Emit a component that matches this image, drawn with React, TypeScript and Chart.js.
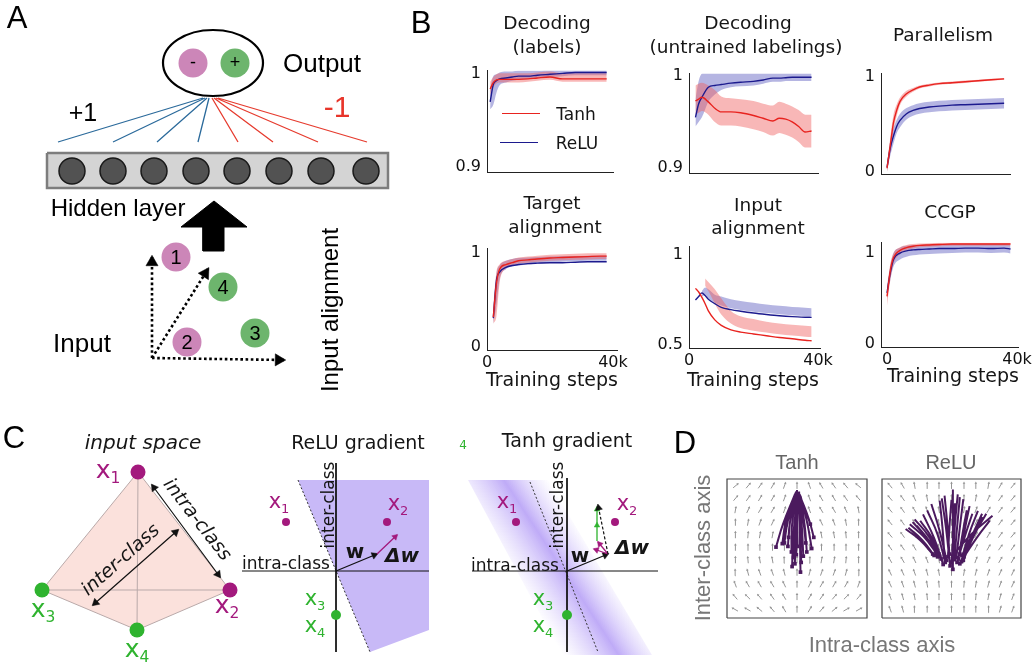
import React, { useEffect, useRef } from 'react';
import { Chart, registerables } from 'chart.js';

Chart.register(...registerables);

const DEJAVU = '"DejaVu Sans", Verdana, sans-serif';
const HELV = '"Liberation Sans", Arial, Helvetica, sans-serif';
Chart.defaults.font.family = DEJAVU;

const RED = '#e8231f';
const BLUE = '#1c1a8e';
const RED_BAND = 'rgba(240,95,95,0.45)';
const BLUE_BAND = 'rgba(90,90,190,0.45)';
const MAGENTA = '#a3197d';
const GREEN = '#2fb32f';
const PINK_UNIT = '#cc86b8';
const GREEN_UNIT = '#6db56d';
const TRAJ = '#4b1a5e';
const QUIVER = '#959595';

// ---------------- Panel B data (x = thousands of training steps) ----------------
const decLabelsSteps = [1, 2, 3, 4, 6, 8, 10, 13, 16, 20, 24, 28, 32, 36, 38];
const decLabelsTanh = [0.984, 0.991, 0.994, 0.9945, 0.9945, 0.9945, 0.9945, 0.995, 0.996, 0.997, 0.995, 0.995, 0.995, 0.995, 0.995];
const decLabelsTanhHi = [0.992, 0.997, 1.0, 1.001, 1.001, 1.001, 1.001, 1.001, 1.002, 1.003, 1.001, 1.001, 1.001, 1.001, 1.001];
const decLabelsTanhLo = [0.978, 0.986, 0.99, 0.991, 0.991, 0.991, 0.991, 0.992, 0.993, 0.994, 0.992, 0.992, 0.992, 0.992, 0.992];
const decLabelsRelu = [0.97, 0.989, 0.993, 0.995, 0.996, 0.997, 0.998, 0.998, 0.999, 1.0, 1.001, 1.002, 1.002, 1.002, 1.002];
const decLabelsReluHi = [0.985, 0.998, 1.0, 1.002, 1.003, 1.003, 1.004, 1.004, 1.004, 1.005, 1.005, 1.006, 1.006, 1.006, 1.006];
const decLabelsReluLo = [0.962, 0.967, 0.98, 0.988, 0.991, 0.993, 0.994, 0.995, 0.996, 0.997, 0.998, 0.999, 0.999, 0.999, 0.999];

const decUntrainedSteps = [2, 3, 4, 6, 8, 10, 13, 16, 20, 23, 26, 28, 30, 32, 34, 36, 38];
const decUntrainedTanh = [0.973, 0.975, 0.977, 0.972, 0.965, 0.961, 0.961, 0.96, 0.957, 0.954, 0.951, 0.954, 0.953, 0.95, 0.945, 0.939, 0.94];
const decUntrainedTanhHi = [0.99, 0.992, 0.993, 0.99, 0.985, 0.978, 0.976, 0.975, 0.973, 0.97, 0.968, 0.972, 0.97, 0.967, 0.963, 0.958, 0.958];
const decUntrainedTanhLo = [0.958, 0.96, 0.962, 0.958, 0.95, 0.946, 0.946, 0.945, 0.942, 0.939, 0.935, 0.938, 0.936, 0.933, 0.928, 0.922, 0.922];
const decUntrainedRelu = [0.955, 0.97, 0.977, 0.988, 0.99, 0.991, 0.9925, 0.9935, 0.9945, 0.996, 0.998, 0.998, 0.9985, 0.999, 0.999, 0.999, 0.999];
const decUntrainedReluHi = [0.975, 0.995, 1.003, 1.005, 1.005, 1.005, 1.005, 1.005, 1.005, 1.005, 1.005, 1.005, 1.005, 1.005, 1.005, 1.005, 1.005];
const decUntrainedReluLo = [0.945, 0.95, 0.955, 0.972, 0.98, 0.985, 0.988, 0.989, 0.99, 0.992, 0.994, 0.994, 0.995, 0.995, 0.995, 0.995, 0.995];

const parallelSteps = [0, 1, 2, 3, 4, 6, 8, 10, 13, 16, 20, 24, 28, 32, 36];
const parallelTanh = [0.04, 0.28, 0.52, 0.65, 0.74, 0.82, 0.86, 0.89, 0.91, 0.925, 0.935, 0.945, 0.955, 0.965, 0.975];
const parallelTanhHi = [0.08, 0.36, 0.6, 0.71, 0.78, 0.85, 0.88, 0.905, 0.925, 0.937, 0.947, 0.957, 0.966, 0.975, 0.985];
const parallelTanhLo = [0.0, 0.2, 0.44, 0.59, 0.7, 0.79, 0.84, 0.875, 0.895, 0.913, 0.923, 0.933, 0.944, 0.955, 0.965];
const parallelRelu = [0.05, 0.25, 0.38, 0.48, 0.54, 0.61, 0.645, 0.665, 0.68, 0.69, 0.7, 0.705, 0.71, 0.715, 0.72];
const parallelReluHi = [0.09, 0.33, 0.46, 0.55, 0.61, 0.67, 0.7, 0.72, 0.735, 0.745, 0.755, 0.76, 0.765, 0.77, 0.775];
const parallelReluLo = [0.01, 0.17, 0.3, 0.41, 0.47, 0.55, 0.59, 0.61, 0.625, 0.635, 0.645, 0.65, 0.655, 0.66, 0.665];

const targetSteps = [2, 3, 4, 6, 8, 10, 13, 16, 20, 24, 28, 32, 36, 38];
const targetTanh = [0.32, 0.68, 0.83, 0.88, 0.9, 0.92, 0.93, 0.94, 0.95, 0.955, 0.96, 0.965, 0.97, 0.97];
const targetTanhHi = [0.45, 0.8, 0.88, 0.92, 0.94, 0.955, 0.965, 0.975, 0.985, 0.99, 0.995, 1.0, 1.0, 1.0];
const targetTanhLo = [0.25, 0.33, 0.68, 0.84, 0.87, 0.89, 0.9, 0.91, 0.92, 0.925, 0.93, 0.935, 0.94, 0.94];
const targetRelu = [0.31, 0.71, 0.8, 0.85, 0.87, 0.88, 0.89, 0.895, 0.9, 0.9, 0.905, 0.91, 0.91, 0.91];
const targetReluHi = [0.4, 0.78, 0.87, 0.92, 0.94, 0.95, 0.955, 0.96, 0.965, 0.97, 0.97, 0.975, 0.975, 0.975];
const targetReluLo = [0.25, 0.45, 0.72, 0.83, 0.86, 0.87, 0.88, 0.89, 0.9, 0.91, 0.915, 0.92, 0.92, 0.92];

const inputSteps = [2, 3, 4, 5, 6, 8, 10, 13, 16, 20, 24, 28, 32, 36, 38];
const inputTanh = [0.815, 0.795, 0.765, 0.73, 0.69, 0.64, 0.61, 0.585, 0.572, 0.562, 0.552, 0.542, 0.535, 0.527, 0.524];
const inputRelu = [0.75, 0.77, 0.79, 0.775, 0.755, 0.73, 0.71, 0.697, 0.688, 0.678, 0.67, 0.663, 0.658, 0.655, 0.654];
const inputTanhBandSteps = [5, 6, 8, 10, 13, 16, 20, 24, 28, 32, 36, 38];
const inputTanhHi = [0.87, 0.85, 0.81, 0.76, 0.69, 0.66, 0.645, 0.63, 0.62, 0.613, 0.607, 0.605];
const inputTanhLo = [0.83, 0.8, 0.73, 0.67, 0.62, 0.595, 0.58, 0.57, 0.56, 0.553, 0.547, 0.545];
const inputReluBandSteps = [4, 5, 6, 8, 10, 13, 16, 20, 24, 28, 32, 36, 38];
const inputReluHi = [0.8, 0.82, 0.81, 0.78, 0.77, 0.755, 0.745, 0.735, 0.725, 0.718, 0.712, 0.708, 0.705];
const inputReluLo = [0.77, 0.78, 0.76, 0.735, 0.72, 0.705, 0.695, 0.685, 0.678, 0.672, 0.666, 0.662, 0.66];

const ccgpSteps = [0, 1, 2, 4, 6, 8, 10, 13, 16, 20, 24, 28, 32, 36, 38];
const ccgpTanh = [0.52, 0.8, 0.95, 1.03, 1.06, 1.075, 1.085, 1.09, 1.095, 1.1, 1.1, 1.1, 1.1, 1.1, 1.1];
const ccgpTanhHi = [0.62, 0.88, 1.0, 1.065, 1.09, 1.1, 1.105, 1.11, 1.115, 1.115, 1.115, 1.115, 1.115, 1.115, 1.115];
const ccgpTanhLo = [0.42, 0.7, 0.88, 0.99, 1.03, 1.05, 1.065, 1.07, 1.075, 1.08, 1.08, 1.08, 1.08, 1.08, 1.08];
const ccgpRelu = [0.56, 0.78, 0.93, 1.0, 1.025, 1.035, 1.04, 1.045, 1.05, 1.05, 1.055, 1.055, 1.05, 1.055, 1.045];
const ccgpReluHi = [0.62, 0.86, 1.0, 1.06, 1.08, 1.09, 1.09, 1.095, 1.095, 1.1, 1.1, 1.1, 1.1, 1.1, 1.09];
const ccgpReluLo = [0.5, 0.7, 0.85, 0.93, 0.96, 0.975, 0.985, 0.99, 0.995, 1.0, 1.005, 1.005, 1.0, 1.005, 0.995];

const xTickValuesBottom = [0, 40];

// ---------------- Panel D data (normalized axes -1..1) ----------------
const quiverGridX = [-0.88, -0.7, -0.53, -0.35, -0.18, 0, 0.18, 0.35, 0.53, 0.7, 0.88];
const quiverGridY = [0.9, 0.72, 0.55, 0.37, 0.19, 0.01, -0.17, -0.35, -0.52, -0.7, -0.88];
// angle of each arrow in degrees, clockwise from "up"
const tanhFieldAngles = [
  [50, 40, 35, 30, 20, 0, -20, -30, -35, -40, -50],
  [40, 35, 30, 30, 20, 0, -20, -30, -30, -35, -40],
  [10, 25, 30, 30, 20, 0, -20, -30, -30, -25, -10],
  [0, 10, 20, 25, 15, 0, -15, -25, -20, -10, 0],
  [0, 5, 10, 10, 5, 0, -5, -10, -10, -5, 0],
  [0, 0, 0, 0, 0, 0, 0, 0, 0, 0, 0],
  [0, -5, -10, -10, -5, 0, 5, 10, 10, 5, 0],
  [-5, -15, -20, -20, -15, 0, 15, 20, 20, 15, 5],
  [-20, -30, -30, -30, -25, 0, 25, 30, 30, 30, 20],
  [-40, -45, -40, -35, -30, 0, 30, 35, 40, 45, 40],
  [-60, -60, -50, -40, -30, 0, 30, 40, 50, 60, 60],
];
const reluFieldAngles = [
  [-40, -30, -10, 0, 0, 0, 0, 0, 10, 30, 40],
  [-40, -35, -25, -10, 0, 0, 0, 10, 25, 35, 40],
  [-40, -35, -30, -20, -10, 0, 10, 20, 30, 35, 40],
  [-40, -35, -30, -25, -15, 0, 15, 25, 30, 35, 40],
  [-40, -35, -30, -25, -15, 0, 15, 25, 30, 35, 40],
  [-35, -35, -30, -25, -15, 0, 15, 25, 30, 35, 35],
  [-30, -30, -25, -20, -10, 0, 10, 20, 25, 30, 30],
  [-25, -25, -20, -15, -10, 0, 10, 15, 20, 25, 25],
  [-25, -20, -15, -10, -5, 0, 5, 10, 15, 20, 25],
  [-20, -15, -10, -5, 0, 0, 0, 5, 10, 15, 20],
  [-20, -15, -5, 0, 0, 0, 0, 0, 5, 15, 20],
];
// trajectories: start x,y  mid x,y  end x,y
const tanhTrajectories = [
  [-0.3, 0.02, -0.2, 0.35, -0.03, 0.78],
  [-0.21, 0.07, -0.16, 0.38, -0.02, 0.8],
  [-0.16, 0.34, -0.1, 0.55, -0.01, 0.82],
  [-0.12, 0.16, -0.09, 0.45, 0.0, 0.83],
  [-0.08, -0.05, -0.07, 0.35, 0.0, 0.8],
  [-0.05, -0.13, -0.04, 0.3, 0.01, 0.78],
  [-0.03, -0.22, -0.02, 0.25, 0.02, 0.8],
  [0.05, -0.34, 0.04, 0.2, 0.02, 0.76],
  [0.09, -0.11, 0.07, 0.3, 0.03, 0.79],
  [0.14, -0.05, 0.11, 0.33, 0.04, 0.78],
  [0.21, 0.0, 0.15, 0.35, 0.05, 0.76],
  [0.24, 0.16, 0.17, 0.42, 0.05, 0.74],
  [0.19, 0.35, 0.12, 0.55, 0.04, 0.75],
  [0.01, 0.03, 0.0, 0.4, 0.01, 0.81],
  [-0.13, 0.03, -0.1, 0.38, -0.01, 0.79],
  [0.125, 0.08, 0.09, 0.4, 0.03, 0.8],
  [-0.01, -0.09, 0.0, 0.35, 0.0, 0.84],
  [-0.18, 0.08, -0.13, 0.4, -0.02, 0.77],
  [0.06, -0.2, 0.05, 0.25, 0.03, 0.82],
  [-0.07, -0.26, -0.05, 0.22, 0.01, 0.79],
];
const reluTrajectories = [
  [-0.27, -0.08, -0.45, 0.12, -0.66, 0.28],
  [-0.22, -0.06, -0.4, 0.17, -0.6, 0.35],
  [-0.17, -0.11, -0.33, 0.18, -0.53, 0.42],
  [-0.12, -0.23, -0.25, 0.15, -0.41, 0.49],
  [-0.07, -0.17, -0.17, 0.25, -0.29, 0.64],
  [-0.1, -0.12, -0.13, 0.3, -0.17, 0.69],
  [-0.03, -0.08, -0.06, 0.35, -0.1, 0.76],
  [0.02, -0.3, 0.02, 0.3, 0.02, 0.85],
  [0.02, -0.13, 0.05, 0.35, 0.09, 0.78],
  [0.07, -0.13, 0.12, 0.3, 0.17, 0.71],
  [0.12, -0.08, 0.19, 0.27, 0.26, 0.61],
  [0.14, -0.19, 0.25, 0.2, 0.38, 0.54],
  [0.17, -0.17, 0.32, 0.18, 0.5, 0.5],
  [0.05, -0.06, 0.3, 0.22, 0.59, 0.47],
  [-0.25, -0.1, -0.42, 0.12, -0.62, 0.3],
  [-0.2, -0.12, -0.33, 0.12, -0.5, 0.33],
  [-0.15, -0.15, -0.28, 0.15, -0.45, 0.4],
  [-0.09, -0.2, -0.2, 0.2, -0.35, 0.55],
  [-0.05, -0.12, -0.03, 0.3, 0.0, 0.7],
  [0.0, -0.2, 0.03, 0.25, 0.05, 0.65],
  [0.1, -0.15, 0.16, 0.22, 0.22, 0.55],
  [0.15, -0.1, 0.3, 0.2, 0.45, 0.45],
  [0.18, -0.12, 0.36, 0.15, 0.55, 0.4],
  [0.08, -0.2, 0.2, 0.2, 0.3, 0.5],
  [-0.02, -0.25, -0.08, 0.3, -0.14, 0.72],
  [0.04, -0.16, 0.08, 0.3, 0.12, 0.74],
  [-0.18, -0.08, -0.36, 0.16, -0.56, 0.38],
  [0.12, -0.22, 0.28, 0.15, 0.44, 0.5],
];
const frameOutline = [[-1, -1], [1, -1], [1, 1], [-1, 1], [-1, -1]];

// ---------------- Panels A and C schematic geometry (page pixel units) ----------------
const fanBlueLines = [[58, 142, 203, 98], [113, 142, 205, 98], [157, 142, 207, 98], [198, 142, 209, 98]];
const fanRedLines = [[238, 142, 212, 98], [273, 142, 214, 98], [318, 142, 216, 98], [367, 142, 218, 98]];
const hiddenBarOutline = [[47, 153], [388, 153], [388, 188], [47, 188], [47, 153]];
const hiddenUnitsX = [72, 113, 154, 196, 237, 279, 321, 366];
const hiddenUnitsY = 171;
const outputEllipseCenter = [213, 63];
const pinkUnits = [[193, 63], [176, 257], [187, 342]];
const greenUnits = [[235, 63], [223, 287], [255, 333]];
const bigArrowOutline = [[203, 251], [224, 251], [224, 227], [247, 227], [214, 201], [181, 227], [203, 227], [203, 251]];
const inputAxes = [[152, 358, 152, 257], [152, 358, 284, 360], [152, 358, 208, 269]];

const vX1 = [138, 472];
const vX2 = [230, 590];
const vX3 = [42, 590];
const vX4 = [137, 630];
const tetraFace = [vX1, vX2, vX4, vX3, vX1];
const tetraEdges = [[...vX1, ...vX3], [...vX3, ...vX4], [...vX4, ...vX2], [...vX3, ...vX2], [...vX1, ...vX4], [...vX1, ...vX2]];
const classArrows = [[152, 485, 220, 577], [93, 605, 178, 530]];

const reluRegion = [[298, 480], [429, 480], [429, 630], [370, 652], [298, 480]];
const reluBoundary = [[298, 480, 370, 652]];
const reluAxes = [[242, 571, 429, 571], [336, 463, 336, 652]];
const tanhBand = [[468, 480], [548, 480], [652, 655], [562, 655], [468, 480]];
const tanhBandGradient = [521, 590, 591, 544];
const tanhBoundary = [[530, 482, 598, 652]];
const tanhAxes = [[472, 571, 658, 571], [567, 478, 567, 652]];
const classOnePoints = [[286, 522], [387, 522], [516, 522], [615, 522]];
const classTwoPoints = [[336, 615], [567, 615]];
const weightArrows = [[336, 571, 377, 554], [567, 571, 608, 554]];
const dwArrows = [[377, 554, 397, 535], [608, 554, 598, 542], [608, 554, 594, 549]];
const tanhGreenSteps = [[597, 541, 597, 523], [597, 523, 597, 507]];
const tanhDashedArrow = [[608, 554, 598, 505]];

// ---------------- helpers ----------------
const P = (x: number, y: number) => ({ x, y });
const GAP = { x: NaN, y: NaN };
const pts = (xs: number[], ys: number[]) => xs.map((x, i) => P(x, ys[i]));
const poly = (list: number[][]) => list.map(([x, y]) => P(x, y));
const segs = (list: number[][]) => {
  const out: any[] = [];
  list.forEach((s) => {
    for (let i = 0; i < s.length; i += 2) out.push(P(s[i], s[i + 1]));
    out.push(GAP);
  });
  return out;
};
const heads = (list: number[][], r: number, both = false) => {
  const data: any[] = [];
  const rot: number[] = [];
  const one = (x1: number, y1: number, x2: number, y2: number) => {
    const dx = x2 - x1, dy = y2 - y1, len = Math.hypot(dx, dy);
    const ux = dx / len, uy = dy / len;
    data.push(P(x2 - ux * r * 0.75, y2 - uy * r * 0.75));
    rot.push((Math.atan2(ux, -uy) * 180) / Math.PI);
  };
  list.forEach(([a, b, c, d]) => {
    one(a, b, c, d);
    if (both) one(c, d, a, b);
  });
  return { data, rot };
};

const base = {
  responsive: false,
  animation: false as const,
  events: [] as any[],
  plugins: { legend: { display: false }, tooltip: { enabled: false } },
};

// ---------------- Panel B config ----------------
const bPanels = [
  { box: [487, 613, 65, 172], x: [0, 40], xTicks: [], y: [0.894, 1.004], yTicks: [0.9, 1],
    tanh: [decLabelsSteps, decLabelsTanh], tanhBand: [decLabelsSteps, decLabelsTanhHi, decLabelsTanhLo],
    relu: [decLabelsSteps, decLabelsRelu], reluBand: [decLabelsSteps, decLabelsReluHi, decLabelsReluLo] },
  { box: [689, 818, 68, 173], x: [0, 40], xTicks: [], y: [0.894, 1.003], yTicks: [0.9, 1],
    tanh: [decUntrainedSteps, decUntrainedTanh], tanhBand: [decUntrainedSteps, decUntrainedTanhHi, decUntrainedTanhLo],
    relu: [decUntrainedSteps, decUntrainedRelu], reluBand: [decUntrainedSteps, decUntrainedReluHi, decUntrainedReluLo] },
  { box: [881, 1010, 68, 174], x: [-1.85, 37.8], xTicks: [], y: [-0.02, 1.03], yTicks: [0, 1],
    tanh: [parallelSteps, parallelTanh], tanhBand: [parallelSteps, parallelTanhHi, parallelTanhLo],
    relu: [parallelSteps, parallelRelu], reluBand: [parallelSteps, parallelReluHi, parallelReluLo] },
  { box: [487, 617, 243, 350], x: [0, 41.27], xTicks: xTickValuesBottom, y: [-0.03, 1.05], yTicks: [0, 1],
    tanh: [targetSteps, targetTanh], tanhBand: [targetSteps, targetTanhHi, targetTanhLo],
    relu: [targetSteps, targetRelu], reluBand: [targetSteps, targetReluHi, targetReluLo] },
  { box: [689, 820, 241, 348], x: [0, 40.6], xTicks: xTickValuesBottom, y: [0.484, 1.047], yTicks: [0.5, 1],
    tanh: [inputSteps, inputTanh], tanhBand: [inputTanhBandSteps, inputTanhHi, inputTanhLo],
    relu: [inputSteps, inputRelu], reluBand: [inputReluBandSteps, inputReluHi, inputReluLo] },
  { box: [881, 1018, 237, 347], x: [-1.85, 40.3], xTicks: xTickValuesBottom, y: [-0.04, 1.116], yTicks: [0, 1],
    tanh: [ccgpSteps, ccgpTanh], tanhBand: [ccgpSteps, ccgpTanhHi, ccgpTanhLo],
    relu: [ccgpSteps, ccgpRelu], reluBand: [ccgpSteps, ccgpReluHi, ccgpReluLo] },
];

const Y_AXIS_W = 45, X_AXIS_H = 30, PAD_TOP = 10, PAD_RIGHT = 20;

function bConfig(p: any): any {
  const line = (xs: number[], ys: number[], color: string) => ({
    data: pts(xs, ys), borderColor: color, borderWidth: 1.4, pointRadius: 0, pointHoverRadius: 0, fill: false,
    cubicInterpolationMode: 'monotone',
  });
  const edge = (xs: number[], ys: number[], fill: any, color: string) => ({
    data: pts(xs, ys), borderWidth: 0, borderColor: 'rgba(0,0,0,0)', pointRadius: 0, pointHoverRadius: 0, fill,
    backgroundColor: color, cubicInterpolationMode: 'monotone',
  });
  const tickFont = { family: DEJAVU, size: 16 };
  return {
    type: 'line',
    data: {
      datasets: [
        line(p.tanh[0], p.tanh[1], RED),
        line(p.relu[0], p.relu[1], BLUE),
        edge(p.tanhBand[0], p.tanhBand[1], false, RED_BAND),
        edge(p.tanhBand[0], p.tanhBand[2], '-1', RED_BAND),
        edge(p.reluBand[0], p.reluBand[1], false, BLUE_BAND),
        edge(p.reluBand[0], p.reluBand[2], '-1', BLUE_BAND),
      ],
    },
    options: {
      ...base,
      layout: { autoPadding: false, padding: { top: PAD_TOP, right: PAD_RIGHT, left: 0, bottom: 0 } },
      scales: {
        x: {
          type: 'linear', min: p.x[0], max: p.x[1],
          grid: { display: false, drawTicks: false },
          border: { display: true, color: '#222', width: 1 },
          ticks: {
            display: p.xTicks.length > 0, font: tickFont, color: '#111', padding: 3,
            maxRotation: 0, autoSkip: false,
            callback: (v: number) => (v === 0 ? '0' : `${v}k`),
          },
          afterBuildTicks: (s: any) => { s.ticks = p.xTicks.map((v: number) => ({ value: v })); },
          afterFit: (s: any) => { s.height = X_AXIS_H; },
        },
        y: {
          type: 'linear', min: p.y[0], max: p.y[1],
          grid: { display: false, drawTicks: false },
          border: { display: true, color: '#222', width: 1 },
          ticks: { font: tickFont, color: '#111', padding: 6, callback: (v: number) => String(v) },
          afterBuildTicks: (s: any) => { s.ticks = p.yTicks.map((v: number) => ({ value: v })); },
          afterFit: (s: any) => { s.width = Y_AXIS_W; },
        },
      },
    },
  };
}

// ---------------- Panel D config ----------------
function dConfig(angles: number[][], trajs: number[][]): any {
  const qLines: any[] = [];
  const qHeads: any[] = [];
  const qRot: number[] = [];
  const QL = 0.085;
  angles.forEach((row, r) =>
    row.forEach((deg, c) => {
      const rad = (deg * Math.PI) / 180;
      const dx = (Math.sin(rad) * QL) / 2, dy = (Math.cos(rad) * QL) / 2;
      const x0 = quiverGridX[c], y0 = quiverGridY[r];
      qLines.push(P(x0 - dx, y0 - dy), P(x0 + dx, y0 + dy), GAP);
      qHeads.push(P(x0 + dx, y0 + dy));
      qRot.push(deg);
    })
  );
  const trajPts: any[] = [];
  const starts: any[] = [];
  trajs.forEach((t) => {
    trajPts.push(P(t[0], t[1]), P(t[2], t[3]), P(t[4], t[5]), GAP);
    starts.push(P(t[0], t[1]));
  });
  return {
    type: 'line',
    data: {
      datasets: [
        { data: starts, showLine: false, pointStyle: 'rect', pointRadius: 2.6, backgroundColor: TRAJ, borderColor: TRAJ, borderWidth: 0 },
        { data: trajPts, borderColor: TRAJ, borderWidth: 2, tension: 0.45, pointRadius: 0, fill: false },
        { data: qHeads, showLine: false, pointStyle: 'triangle', pointRadius: 1.5, pointRotation: qRot, backgroundColor: QUIVER, borderWidth: 0 },
        { data: qLines, borderColor: QUIVER, borderWidth: 1, pointRadius: 0, fill: false },
        { data: poly(frameOutline), borderColor: '#444', borderWidth: 1.2, pointRadius: 0, fill: false, clip: false },
      ],
    },
    options: {
      ...base,
      layout: { autoPadding: false, padding: 2 },
      scales: {
        x: { type: 'linear', min: -1, max: 1, display: false },
        y: { type: 'linear', min: -1, max: 1, display: false },
      },
    },
  };
}

// ---------------- Schematic config (panels A & C) ----------------
function makeEllipseStyle() {
  const c = document.createElement('canvas');
  c.width = 106;
  c.height = 72;
  const g = c.getContext('2d')!;
  g.lineWidth = 2.2;
  g.strokeStyle = '#000';
  g.beginPath();
  g.ellipse(53, 36, 50, 33, 0, 0, Math.PI * 2);
  g.stroke();
  return c;
}

function tanhBandFill(c: any) {
  const fallback = 'rgba(185,165,245,0.5)';
  const ch = c && c.chart;
  if (!ch || !ch.ctx || !ch.scales) return fallback;
  const xs = ch.scales.x, ys = ch.scales.y;
  if (!xs || !ys) return fallback;
  const coords = [
    xs.getPixelForValue(tanhBandGradient[0]), ys.getPixelForValue(tanhBandGradient[1]),
    xs.getPixelForValue(tanhBandGradient[2]), ys.getPixelForValue(tanhBandGradient[3]),
  ];
  if (!coords.every((v) => Number.isFinite(v))) return fallback;
  const g = ch.ctx.createLinearGradient(coords[0], coords[1], coords[2], coords[3]);
  g.addColorStop(0, 'rgba(205,190,250,0)');
  g.addColorStop(0.35, 'rgba(190,170,248,0.55)');
  g.addColorStop(0.55, 'rgba(175,150,245,0.8)');
  g.addColorStop(0.75, 'rgba(190,170,248,0.45)');
  g.addColorStop(1, 'rgba(205,190,250,0)');
  return g;
}

function schematicConfig(): any {
  const layers: any[] = []; // painter's order, bottom first
  const L = (d: any) => layers.push({ pointRadius: 0, pointHoverRadius: 0, borderWidth: 0, fill: false, tension: 0, ...d });
  const headSet = (h: any, r: number, color: string) =>
    L({ data: h.data, showLine: false, pointStyle: 'triangle', pointRadius: r, pointRotation: h.rot, backgroundColor: color, borderColor: color, borderWidth: 0.5 });
  const dots = (list: number[][], r: number, fillC: string, stroke: string, bw: number) =>
    L({ data: poly(list), showLine: false, pointRadius: r, backgroundColor: fillC, borderColor: stroke, borderWidth: bw });

  // Panel A
  L({ data: segs(fanBlueLines), borderColor: '#2b6a9b', borderWidth: 1.3 });
  L({ data: segs(fanRedLines), borderColor: '#e63b2e', borderWidth: 1.3 });
  L({ data: poly(hiddenBarOutline), fill: 'shape', backgroundColor: '#d4d4d4', borderColor: '#7d7d7d', borderWidth: 2.5 });
  dots(hiddenUnitsX.map((x) => [x, hiddenUnitsY]), 13, '#525252', '#1a1a1a', 1.5);
  L({ data: [P(outputEllipseCenter[0], outputEllipseCenter[1])], showLine: false, pointRadius: 20, pointStyle: makeEllipseStyle() });
  dots(pinkUnits, 14.5, PINK_UNIT, PINK_UNIT, 0);
  dots(greenUnits, 14.5, GREEN_UNIT, GREEN_UNIT, 0);
  L({ data: poly(bigArrowOutline), fill: 'shape', backgroundColor: '#000', borderColor: '#000', borderWidth: 1 });
  L({ data: segs(inputAxes), borderColor: '#000', borderWidth: 2.6, borderDash: [2.6, 2.6] });
  headSet(heads(inputAxes, 7), 7, '#000');

  // Panel C: input space
  L({ data: poly(tetraFace), fill: 'shape', backgroundColor: '#fbe1dc' });
  L({ data: segs(tetraEdges), borderColor: '#b9a9a9', borderWidth: 1 });
  L({ data: segs(classArrows), borderColor: '#111', borderWidth: 1.2 });
  headSet(heads(classArrows, 4.5, true), 4.5, '#111');
  dots([vX1, vX2], 7.5, MAGENTA, MAGENTA, 0);
  dots([vX3, vX4], 7.5, GREEN, GREEN, 0);

  // Panel C: ReLU gradient
  L({ data: poly(reluRegion), fill: 'shape', backgroundColor: '#c8b9f7' });
  L({ data: segs(reluBoundary), borderColor: '#333', borderWidth: 1, borderDash: [2, 2] });
  L({ data: segs(reluAxes), borderColor: '#111', borderWidth: 1 });

  // Panel C: Tanh gradient
  L({ data: poly(tanhBand), fill: 'shape', backgroundColor: tanhBandFill });
  L({ data: segs(tanhBoundary), borderColor: '#333', borderWidth: 1, borderDash: [2, 2] });
  L({ data: segs(tanhAxes), borderColor: '#111', borderWidth: 1 });

  dots(classOnePoints, 4, MAGENTA, MAGENTA, 0);
  dots(classTwoPoints, 5, GREEN, GREEN, 0);
  L({ data: segs(weightArrows), borderColor: '#111', borderWidth: 1.3 });
  headSet(heads(weightArrows, 4), 4, '#111');
  L({ data: segs(dwArrows), borderColor: MAGENTA, borderWidth: 1.3 });
  headSet(heads(dwArrows, 3.5), 3.5, MAGENTA);
  L({ data: segs(tanhGreenSteps), borderColor: GREEN, borderWidth: 1.3 });
  headSet(heads(tanhGreenSteps, 3.2), 3.2, GREEN);
  L({ data: segs(tanhDashedArrow), borderColor: '#111', borderWidth: 1.2, borderDash: [3, 2] });
  headSet(heads(tanhDashedArrow, 4), 4, '#111');

  return {
    type: 'line',
    data: { datasets: layers.reverse() },
    options: {
      ...base,
      layout: { autoPadding: false, padding: 0 },
      scales: {
        x: { type: 'linear', min: 0, max: 1036, display: false },
        y: { type: 'linear', min: 0, max: 667, reverse: true, display: false },
      },
    },
  };
}

// ---------------- Text ----------------
type Lab = { t: string; x: number; y: number; s: number; f?: 'hv'; c?: string; r?: number; i?: boolean; b?: boolean; sub?: string };
const labels: Lab[] = [
  { t: 'A', x: 17, y: 17, s: 31, f: 'hv', c: '#000' },
  { t: 'B', x: 421, y: 22, s: 31, f: 'hv', c: '#000' },
  { t: 'C', x: 14, y: 437, s: 31, f: 'hv', c: '#000' },
  { t: 'D', x: 685, y: 442, s: 31, f: 'hv', c: '#000' },
  // A
  { t: 'Output', x: 322, y: 63, s: 26, f: 'hv', c: '#000' },
  { t: '+1', x: 83, y: 112, s: 25, f: 'hv', c: '#000' },
  { t: '-1', x: 337, y: 107, s: 30, f: 'hv', c: '#e8352a' },
  { t: 'Hidden layer', x: 118, y: 208, s: 24, f: 'hv', c: '#000' },
  { t: 'Input', x: 82, y: 343, s: 26, f: 'hv', c: '#000' },
  { t: 'Input alignment', x: 330, y: 310, s: 24, f: 'hv', c: '#000', r: -90 },
  { t: '-', x: 193, y: 62, s: 18, f: 'hv', c: '#000' },
  { t: '+', x: 235, y: 62, s: 18, f: 'hv', c: '#000' },
  { t: '1', x: 176, y: 257, s: 20, f: 'hv', c: '#000' },
  { t: '4', x: 223, y: 287, s: 20, f: 'hv', c: '#000' },
  { t: '2', x: 187, y: 342, s: 20, f: 'hv', c: '#000' },
  { t: '3', x: 255, y: 333, s: 20, f: 'hv', c: '#000' },
  // B
  { t: 'Decoding', x: 547, y: 23, s: 18.5 },
  { t: '(labels)', x: 547, y: 47, s: 18.5 },
  { t: 'Decoding', x: 748, y: 23, s: 18.5 },
  { t: '(untrained labelings)', x: 746, y: 47, s: 18.5 },
  { t: 'Parallelism', x: 943, y: 35, s: 18.5 },
  { t: 'Target', x: 552, y: 203, s: 18.5 },
  { t: 'alignment', x: 555, y: 227, s: 18.5 },
  { t: 'Input', x: 758, y: 205, s: 18.5 },
  { t: 'alignment', x: 758, y: 228, s: 18.5 },
  { t: 'CCGP', x: 950, y: 212, s: 18.5 },
  { t: 'Training steps', x: 552, y: 379, s: 19 },
  { t: 'Training steps', x: 753, y: 379, s: 19 },
  { t: 'Training steps', x: 953, y: 375, s: 19 },
  { t: 'Tanh', x: 576, y: 114, s: 17 },
  { t: 'ReLU', x: 577, y: 143, s: 17 },
  // C input space
  { t: 'input space', x: 143, y: 442, s: 20, i: true },
  { t: 'x', sub: '1', x: 108, y: 472, s: 25, c: MAGENTA },
  { t: 'x', sub: '2', x: 227, y: 607, s: 25, c: MAGENTA },
  { t: 'x', sub: '3', x: 43, y: 611, s: 25, c: GREEN },
  { t: 'x', sub: '4', x: 137, y: 651, s: 25, c: GREEN },
  { t: 'intra-class', x: 198, y: 519, s: 19, i: true, r: 52 },
  { t: 'inter-class', x: 120, y: 559, s: 19, i: true, r: -41.6 },
  // C ReLU
  { t: 'ReLU gradient', x: 358, y: 442, s: 19 },
  { t: '4', x: 463, y: 445, s: 12, c: GREEN },
  { t: 'inter-class', x: 328, y: 505, s: 17, r: -90 },
  { t: 'intra-class', x: 286, y: 563, s: 17 },
  { t: 'x', sub: '1', x: 279, y: 503, s: 21, c: MAGENTA },
  { t: 'x', sub: '2', x: 398, y: 505, s: 21, c: MAGENTA },
  { t: 'x', sub: '3', x: 315, y: 600, s: 21, c: GREEN },
  { t: 'x', sub: '4', x: 315, y: 627, s: 21, c: GREEN },
  { t: 'w', x: 355, y: 551, s: 20, b: true },
  { t: 'Δw', x: 402, y: 555, s: 20, b: true, i: true },
  // C Tanh
  { t: 'Tanh gradient', x: 567, y: 440, s: 19 },
  { t: 'inter-class', x: 557, y: 505, s: 17, r: -90 },
  { t: 'intra-class', x: 515, y: 565, s: 17 },
  { t: 'x', sub: '1', x: 507, y: 503, s: 21, c: MAGENTA },
  { t: 'x', sub: '2', x: 627, y: 505, s: 21, c: MAGENTA },
  { t: 'x', sub: '3', x: 543, y: 600, s: 21, c: GREEN },
  { t: 'x', sub: '4', x: 543, y: 627, s: 21, c: GREEN },
  { t: 'w', x: 580, y: 555, s: 20, b: true },
  { t: 'Δw', x: 632, y: 547, s: 20, b: true, i: true },
  // D
  { t: 'Tanh', x: 797, y: 462, s: 20, f: 'hv', c: '#666' },
  { t: 'ReLU', x: 951, y: 462, s: 20, f: 'hv', c: '#666' },
  { t: 'Inter-class axis', x: 703, y: 548, s: 22, f: 'hv', c: '#777', r: -90 },
  { t: 'Intra-class axis', x: 882, y: 645, s: 22, f: 'hv', c: '#777' },
];

function Label({ l }: { l: Lab }) {
  return (
    <div
      style={{
        position: 'absolute', left: l.x, top: l.y,
        transform: `translate(-50%,-50%)${l.r ? ` rotate(${l.r}deg)` : ''}`,
        fontFamily: l.f === 'hv' ? HELV : DEJAVU, fontSize: l.s, color: l.c || '#151515',
        fontStyle: l.i ? 'italic' : 'normal', fontWeight: l.b ? 'bold' : 'normal',
        whiteSpace: 'nowrap', lineHeight: 1,
      }}
    >
      {l.t}
      {l.sub ? <span style={{ fontSize: '0.62em', verticalAlign: '-0.35em' }}>{l.sub}</span> : null}
    </div>
  );
}

function ChartCanvas({ left, top, width, height, make }: { left: number; top: number; width: number; height: number; make: () => any }) {
  const ref = useRef<HTMLCanvasElement | null>(null);
  useEffect(() => {
    let chart: any = null;
    try {
      chart = new Chart(ref.current as HTMLCanvasElement, make());
    } catch (e) {
      console.error(e);
    }
    return () => {
      if (chart) chart.destroy();
    };
  }, []);
  return <canvas ref={ref} width={width} height={height} style={{ position: 'absolute', left, top, width, height }} />;
}

export default function App() {
  return (
    <div style={{ position: 'absolute', left: 0, top: 0, width: 1036, height: 667, overflow: 'hidden', background: '#fff' }}>
      <ChartCanvas left={0} top={0} width={1036} height={667} make={schematicConfig} />
      {bPanels.map((p, i) => {
        const [Lx, R, T, B] = p.box;
        return (
          <ChartCanvas
            key={i}
            left={Lx - Y_AXIS_W}
            top={T - PAD_TOP}
            width={R - Lx + Y_AXIS_W + PAD_RIGHT}
            height={B - T + PAD_TOP + X_AXIS_H}
            make={() => bConfig(p)}
          />
        );
      })}
      <ChartCanvas left={725} top={477} width={144} height={143} make={() => dConfig(tanhFieldAngles, tanhTrajectories)} />
      <ChartCanvas left={880} top={477} width={143} height={143} make={() => dConfig(reluFieldAngles, reluTrajectories)} />
      <div style={{ position: 'absolute', left: 502, top: 113, width: 38, borderTop: `1.5px solid ${RED}` }} />
      <div style={{ position: 'absolute', left: 500, top: 142, width: 38, borderTop: `1.5px solid ${BLUE}` }} />
      {labels.map((l, i) => (
        <Label key={i} l={l} />
      ))}
    </div>
  );
}
